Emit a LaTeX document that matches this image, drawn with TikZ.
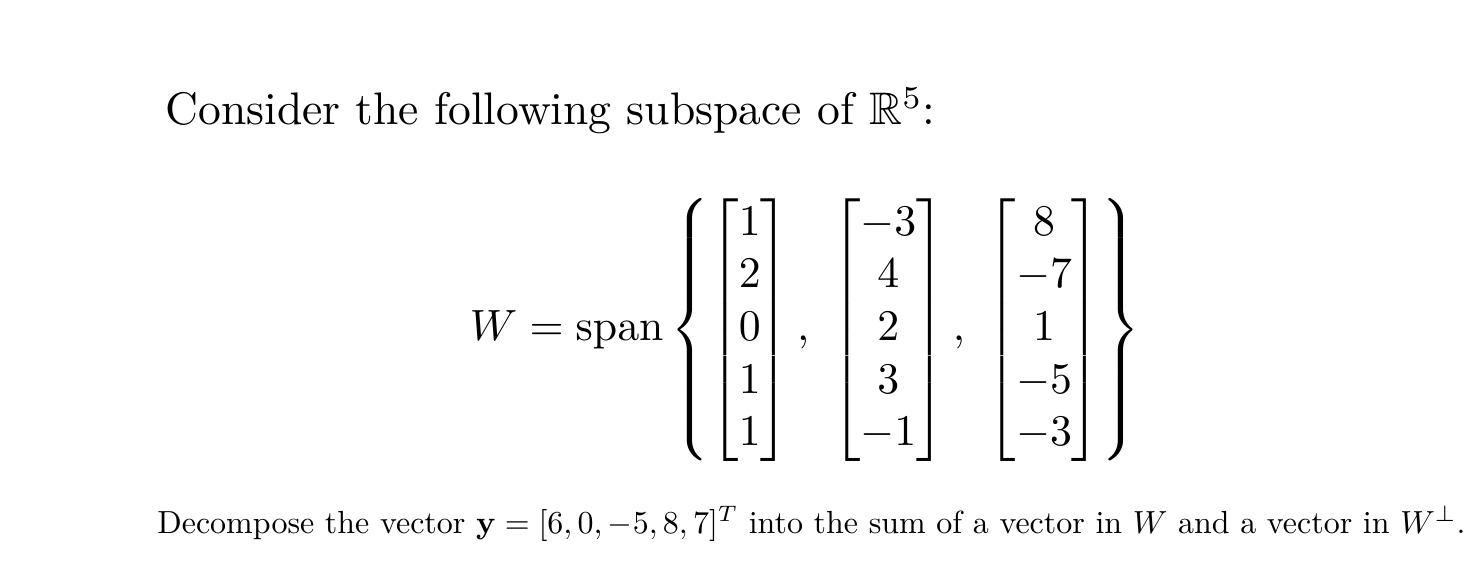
\documentclass[tikz,border=0pt]{standalone}
\usepackage{amsmath,amssymb}
\tikzset{txt/.style={inner sep=0pt}}
\begin{document}
\begin{tikzpicture}[x=0.5pt,y=-0.5pt]
\useasboundingbox (0,0) rectangle (1480,588);
\node[txt,anchor=base west] (title) at (165,125) {\resizebox{385pt}{!}{Consider the following subspace of $\mathbb{R}^5$:}};
\node[txt] (eq) at (805,330) {\resizebox{335pt}{!}{$W=\operatorname{span}\left\{\begin{bmatrix}1\\2\\0\\1\\1\end{bmatrix},\ \begin{bmatrix}-3\\4\\2\\3\\-1\end{bmatrix},\ \begin{bmatrix}8\\-7\\1\\-5\\-3\end{bmatrix}\right\}$}};
\node[txt,anchor=base west] (q) at (157,533) {\resizebox{654pt}{!}{Decompose the vector $\mathbf{y}=[6,0,-5,8,7]^T$ into the sum of a vector in $W$ and a vector in $W^{\perp}$.}};
\end{tikzpicture}
\end{document}
